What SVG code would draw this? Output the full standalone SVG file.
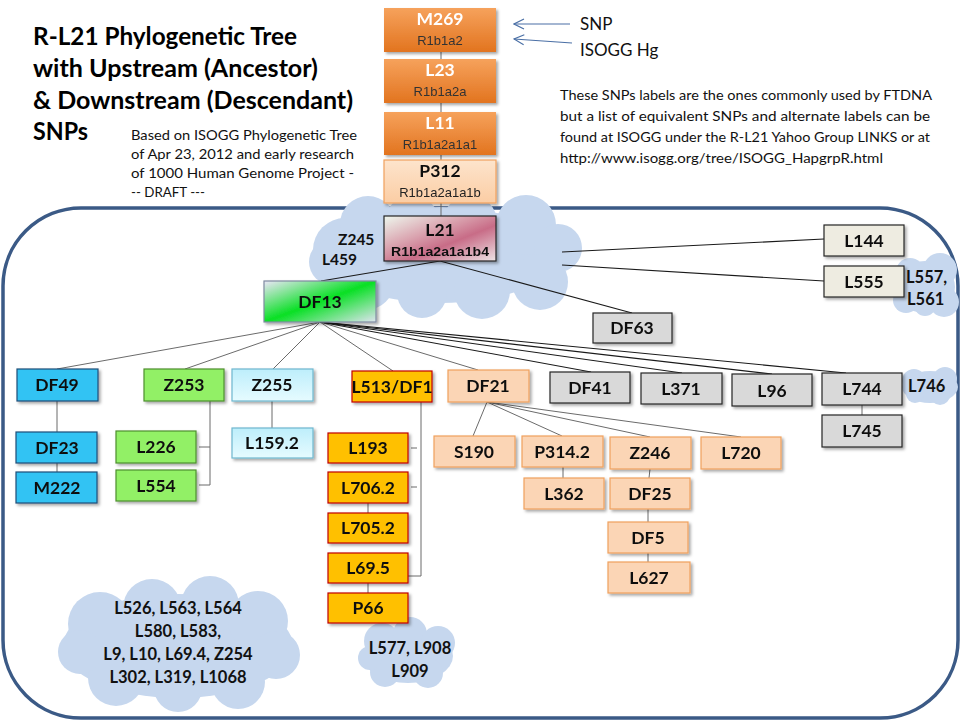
<svg xmlns="http://www.w3.org/2000/svg" width="960" height="720" viewBox="0 0 960 720">
<defs>
<style>
.lbl{font-family:Lato,"Liberation Sans",sans-serif;font-weight:bold;font-size:17.5px;text-anchor:middle;fill:#111}
.hg{font-family:"Liberation Sans",Arial,sans-serif;font-size:13px;text-anchor:middle;fill:#333}
.cloud{fill:#c6d7ee}
.ctext{font-family:Lato,"Liberation Sans",sans-serif;font-weight:bold;font-size:16.5px;fill:#111}
.gray{fill:#d9d9d9;stroke:#262626;stroke-width:1.2}
.beige{fill:#eeece1;stroke:#262626;stroke-width:1.2}
.peach{fill:#fbd5b5;stroke:#f0a15e;stroke-width:1.2}
.gold{fill:#ffc000;stroke:#c00000;stroke-width:1.2}
.blue{fill:#33c3f3;stroke:#1f4e79;stroke-width:1.2}
.green{fill:#92f066;stroke:#4e8f2e;stroke-width:1.2}
.cyan{fill:url(#gc);stroke:#6fb7cf;stroke-width:1.2}
.orange{fill:url(#go)}
.thin{stroke:#6b6b6b;stroke-width:1;fill:none}
.dark{stroke:#1a1a1a;stroke-width:1.1;fill:none}
.ptxt{font-family:Lato,"Liberation Sans",sans-serif;font-size:14px;fill:#111}
</style>
<linearGradient id="go" x1="0" y1="0" x2="0" y2="1"><stop offset="0" stop-color="#f6a25c"/><stop offset="1" stop-color="#e2741f"/></linearGradient>
<linearGradient id="gp" x1="0" y1="0" x2="0" y2="1"><stop offset="0" stop-color="#fde4cc"/><stop offset="1" stop-color="#fbcda4"/></linearGradient>
<linearGradient id="gc" x1="0" y1="0" x2="0" y2="1"><stop offset="0" stop-color="#bdeefb"/><stop offset="1" stop-color="#e6fbff"/></linearGradient>
<linearGradient id="gl21" x1="0" y1="0" x2="1" y2="1"><stop offset="0" stop-color="#eef8ee"/><stop offset="0.35" stop-color="#dba7b2"/><stop offset="0.6" stop-color="#c86c87"/><stop offset="1" stop-color="#eee4e6"/></linearGradient>
<linearGradient id="gdf13" x1="0" y1="0" x2="1" y2="1"><stop offset="0" stop-color="#ece6f8"/><stop offset="0.5" stop-color="#08e024"/><stop offset="1" stop-color="#dfe4f0"/></linearGradient>
<filter id="sh" x="-10%" y="-10%" width="130%" height="140%"><feDropShadow dx="2" dy="2" stdDeviation="1.5" flood-color="#000" flood-opacity="0.35"/></filter>
<marker id="ar" viewBox="0 0 12 12" refX="11" refY="6" markerWidth="12" markerHeight="12" markerUnits="userSpaceOnUse" orient="auto"><path d="M1,1 L11,6 L1,11" fill="none" stroke="#4a6fa5" stroke-width="1.2"/></marker>
</defs>
<rect width="960" height="720" fill="#fff"/>

<!-- title and notes -->
<g id="title" font-family="Lato,'Liberation Sans',sans-serif" font-weight="bold" font-size="24" fill="#000">
<text x="33" y="45" textLength="264" lengthAdjust="spacingAndGlyphs">R-L21 Phylogenetic Tree</text>
<text x="33" y="77" textLength="285" lengthAdjust="spacingAndGlyphs">with Upstream (Ancestor)</text>
<text x="33" y="109" textLength="320" lengthAdjust="spacingAndGlyphs">&amp; Downstream (Descendant)</text>
<text x="33" y="140" textLength="55" lengthAdjust="spacingAndGlyphs">SNPs</text>
</g>
<g id="subtitle" font-family="Lato,'Liberation Sans',sans-serif" font-size="13.5" fill="#111">
<text x="131" y="140" textLength="226" lengthAdjust="spacingAndGlyphs">Based on ISOGG Phylogenetic Tree</text>
<text x="131" y="159" textLength="223" lengthAdjust="spacingAndGlyphs">of Apr 23, 2012 and early research</text>
<text x="131" y="178" textLength="223" lengthAdjust="spacingAndGlyphs">of 1000 Human Genome  Project   -</text>
<text x="131" y="197" textLength="74" lengthAdjust="spacingAndGlyphs">-- DRAFT ---</text>
</g>
<g id="note">
<text class="ptxt" x="560" y="100" textLength="372" lengthAdjust="spacingAndGlyphs">These SNPs labels are the ones commonly  used by FTDNA</text>
<text class="ptxt" x="560" y="121" textLength="370" lengthAdjust="spacingAndGlyphs">but a list of equivalent SNPs and alternate labels can be</text>
<text class="ptxt" x="560" y="142" textLength="370" lengthAdjust="spacingAndGlyphs">found at ISOGG under the R-L21 Yahoo Group  LINKS or at</text>
<text class="ptxt" x="560" y="163" textLength="323" lengthAdjust="spacingAndGlyphs">http://www.isogg.org/tree/ISOGG_HapgrpR.html</text>
</g>
<g id="legend" font-family="Lato,'Liberation Sans',sans-serif" font-size="17" fill="#111">
<line x1="570" y1="24" x2="514" y2="24" stroke="#4a6fa5" stroke-width="1.2" marker-end="url(#ar)"/>
<line x1="572" y1="43" x2="514" y2="39" stroke="#4a6fa5" stroke-width="1.2" marker-end="url(#ar)"/>
<text x="580" y="30">SNP</text>
<text x="580" y="56">ISOGG Hg</text>
</g>

<!-- frame -->
<rect id="frame" x="3" y="208" width="955" height="510" rx="78" ry="78" fill="#fff" stroke="#3b5a86" stroke-width="3.5"/>

<!-- clouds -->
<g id="cloud-l21" class="cloud">
<ellipse cx="440" cy="255" rx="118" ry="48"/>
<circle cx="345" cy="250" r="32"/><circle cx="368" cy="224" r="28"/><circle cx="412" cy="222" r="27"/>
<circle cx="470" cy="222" r="27"/><circle cx="526" cy="225" r="30"/><circle cx="558" cy="248" r="24"/>
<circle cx="540" cy="282" r="28"/><circle cx="482" cy="291" r="28"/><circle cx="422" cy="293" r="25"/>
<circle cx="366" cy="282" r="28"/><circle cx="332" cy="262" r="23"/>
</g>
<g id="cloud-l557" class="cloud">
<ellipse cx="925" cy="287" rx="30" ry="26"/><circle cx="910" cy="272" r="14"/><circle cx="940" cy="270" r="17"/>
<circle cx="906" cy="300" r="13"/><circle cx="944" cy="302" r="15"/><circle cx="925" cy="305" r="11"/>
</g>
<g id="cloud-l746" class="cloud">
<ellipse cx="930" cy="387" rx="28" ry="16"/><circle cx="914" cy="381" r="12"/><circle cx="945" cy="379" r="12"/>
<circle cx="940" cy="395" r="10"/><circle cx="915" cy="394" r="9"/>
</g>
<g id="cloud-l577" class="cloud">
<ellipse cx="408" cy="656" rx="45" ry="27"/><circle cx="382" cy="641" r="18"/><circle cx="410" cy="634" r="17"/>
<circle cx="438" cy="643" r="17"/><circle cx="385" cy="672" r="15"/><circle cx="428" cy="673" r="15"/><circle cx="370" cy="658" r="12"/>
</g>
<g id="cloud-bl" class="cloud">
<ellipse cx="178" cy="646" rx="115" ry="52"/><circle cx="100" cy="624" r="32"/><circle cx="152" cy="608" r="29"/>
<circle cx="210" cy="605" r="29"/><circle cx="258" cy="621" r="30"/><circle cx="276" cy="655" r="24"/>
<circle cx="238" cy="682" r="27"/><circle cx="178" cy="688" r="24"/><circle cx="116" cy="678" r="28"/><circle cx="80" cy="652" r="22"/>
</g>

<!-- connectors -->
<g id="connectors">
<line class="thin" x1="441" y1="52" x2="441" y2="216"/>
<line class="dark" x1="440" y1="261" x2="321" y2="281"/>
<line class="dark" x1="440" y1="261" x2="632" y2="313"/>
<line class="dark" x1="562" y1="252" x2="824" y2="239"/>
<line class="dark" x1="562" y1="265" x2="824" y2="281"/>
<line class="thin" x1="320" y1="322" x2="57" y2="369"/>
<line class="thin" x1="320" y1="322" x2="185" y2="369"/>
<line class="thin" x1="320" y1="322" x2="273" y2="369"/>
<line class="thin" x1="320" y1="322" x2="393" y2="371"/>
<line class="thin" x1="320" y1="322" x2="478" y2="370"/>
<line class="dark" x1="320" y1="322" x2="591" y2="372"/>
<line class="dark" x1="320" y1="322" x2="682" y2="373"/>
<line class="dark" x1="320" y1="322" x2="772" y2="374"/>
<line class="dark" x1="320" y1="322" x2="846" y2="373"/>
<line class="thin" x1="57" y1="401" x2="57" y2="432"/>
<line class="thin" x1="57" y1="463" x2="57" y2="472"/>
<polyline class="thin" points="210,401 210,485 199,485"/>
<line class="thin" x1="199" y1="447" x2="210" y2="447"/>
<line class="thin" x1="272" y1="401" x2="272" y2="428"/>
<polyline class="thin" points="421,402 421,576 408,576"/>
<line class="thin" x1="411" y1="448" x2="417" y2="448"/>
<line class="thin" x1="411" y1="487" x2="417" y2="487"/>
<line class="thin" x1="368" y1="503" x2="368" y2="513"/>
<line class="thin" x1="368" y1="583" x2="368" y2="593"/>
<line class="thin" x1="487" y1="402" x2="473" y2="436"/>
<line class="thin" x1="487" y1="402" x2="562" y2="436"/>
<line class="thin" x1="487" y1="402" x2="650" y2="437"/>
<line class="thin" x1="487" y1="402" x2="741" y2="437"/>
<line class="thin" x1="563" y1="467" x2="563" y2="478"/>
<line class="thin" x1="650" y1="469" x2="649" y2="478"/>
<line class="thin" x1="648" y1="509" x2="648" y2="522"/>
<line class="thin" x1="648" y1="553" x2="648" y2="562"/>
<line class="thin" x1="862" y1="405" x2="862" y2="415"/>
</g>

<!-- upstream nodes -->
<g id="n-m269" filter="url(#sh)"><rect class="orange" x="384" y="8" width="112" height="44"/><text class="lbl" x="440" y="25" style="fill:#fff">M269</text><text class="hg" x="440" y="45">R1b1a2</text></g>
<g id="n-l23" filter="url(#sh)"><rect class="orange" x="384" y="59" width="112" height="44"/><text class="lbl" x="440" y="76" style="fill:#fff">L23</text><text class="hg" x="440" y="96">R1b1a2a</text></g>
<g id="n-l11" filter="url(#sh)"><rect class="orange" x="384" y="112" width="112" height="43"/><text class="lbl" x="440" y="129" style="fill:#fff">L11</text><text class="hg" x="440" y="149">R1b1a2a1a1</text></g>
<g id="n-p312" filter="url(#sh)"><rect x="384" y="160" width="112" height="43" fill="url(#gp)" stroke="#f0a15e" stroke-width="1.2"/><text class="lbl" x="440" y="177">P312</text><text class="hg" x="440" y="197" style="fill:#222">R1b1a2a1a1b</text></g>
<g id="n-l21" filter="url(#sh)"><rect x="384" y="216" width="112" height="45" fill="url(#gl21)" stroke="#262626" stroke-width="1.2"/><text class="lbl" x="440" y="236">L21</text><text class="hg" x="440" y="256" font-weight="bold" style="fill:#111" textLength="98" lengthAdjust="spacingAndGlyphs">R1b1a2a1a1b4</text></g>
<g id="l21-extra"><text class="ctext" x="338" y="245" style="font-size:15.5px">Z245</text><text class="ctext" x="322" y="265" style="font-size:15.5px">L459</text></g>

<g id="n-df13" filter="url(#sh)"><rect x="264" y="281" width="112" height="41" fill="url(#gdf13)" stroke="#7f8aa0" stroke-width="1.2"/><text class="lbl" x="320" y="308">DF13</text></g>
<g id="n-df63" filter="url(#sh)"><rect class="gray" x="593" y="313" width="79" height="30"/><text class="lbl" x="632" y="334">DF63</text></g>
<g id="n-l144" filter="url(#sh)"><rect class="beige" x="824" y="225" width="80" height="31"/><text class="lbl" x="864" y="247">L144</text></g>
<g id="n-l555" filter="url(#sh)"><rect class="beige" x="824" y="266" width="80" height="31"/><text class="lbl" x="864" y="288">L555</text></g>
<g id="l555-extra"><text class="ctext" x="906" y="283">L557,</text><text class="ctext" x="907" y="305">L561</text></g>

<!-- DF13 children -->
<g id="n-df49" filter="url(#sh)"><rect class="blue" x="17" y="369" width="81" height="32"/><text class="lbl" x="57" y="391">DF49</text></g>
<g id="n-df23" filter="url(#sh)"><rect class="blue" x="16" y="432" width="81" height="31"/><text class="lbl" x="57" y="454">DF23</text></g>
<g id="n-m222" filter="url(#sh)"><rect class="blue" x="16" y="472" width="81" height="31"/><text class="lbl" x="57" y="494">M222</text></g>
<g id="n-z253" filter="url(#sh)"><rect class="green" x="144" y="369" width="80" height="32"/><text class="lbl" x="184" y="391">Z253</text></g>
<g id="n-l226" filter="url(#sh)"><rect class="green" x="116" y="431" width="80" height="32"/><text class="lbl" x="156" y="453">L226</text></g>
<g id="n-l554" filter="url(#sh)"><rect class="green" x="116" y="470" width="80" height="31"/><text class="lbl" x="156" y="492">L554</text></g>
<g id="n-z255" filter="url(#sh)"><rect class="cyan" x="232" y="369" width="81" height="32"/><text class="lbl" x="272" y="391">Z255</text></g>
<g id="n-l1592" filter="url(#sh)"><rect class="cyan" x="232" y="428" width="81" height="30"/><text class="lbl" x="272" y="449">L159.2</text></g>
<g id="n-l513" filter="url(#sh)"><rect class="gold" x="352" y="371" width="80" height="31"/><text class="lbl" x="392" y="393">L513/DF1</text></g>
<g id="n-l193" filter="url(#sh)"><rect class="gold" x="328" y="433" width="80" height="30"/><text class="lbl" x="368" y="454">L193</text></g>
<g id="n-l7062" filter="url(#sh)"><rect class="gold" x="328" y="472" width="80" height="31"/><text class="lbl" x="368" y="494">L706.2</text></g>
<g id="n-l7052" filter="url(#sh)"><rect class="gold" x="328" y="513" width="80" height="30"/><text class="lbl" x="368" y="534">L705.2</text></g>
<g id="n-l695" filter="url(#sh)"><rect class="gold" x="328" y="553" width="80" height="30"/><text class="lbl" x="368" y="574">L69.5</text></g>
<g id="n-p66" filter="url(#sh)"><rect class="gold" x="328" y="593" width="80" height="30"/><text class="lbl" x="368" y="614">P66</text></g>
<g id="p66-extra"><text class="ctext" x="410" y="654" text-anchor="middle">L577, L908</text><text class="ctext" x="410" y="677" text-anchor="middle">L909</text></g>
<g id="n-df21" filter="url(#sh)"><rect class="peach" x="448" y="370" width="81" height="32"/><text class="lbl" x="488" y="392">DF21</text></g>
<g id="n-s190" filter="url(#sh)"><rect class="peach" x="434" y="436" width="81" height="31"/><text class="lbl" x="474" y="458">S190</text></g>
<g id="n-p3142" filter="url(#sh)"><rect class="peach" x="522" y="436" width="81" height="31"/><text class="lbl" x="562" y="458">P314.2</text></g>
<g id="n-l362" filter="url(#sh)"><rect class="peach" x="524" y="478" width="80" height="31"/><text class="lbl" x="564" y="500">L362</text></g>
<g id="n-z246" filter="url(#sh)"><rect class="peach" x="610" y="437" width="81" height="32"/><text class="lbl" x="650" y="459">Z246</text></g>
<g id="n-df25" filter="url(#sh)"><rect class="peach" x="610" y="478" width="80" height="31"/><text class="lbl" x="650" y="500">DF25</text></g>
<g id="n-df5" filter="url(#sh)"><rect class="peach" x="608" y="522" width="80" height="31"/><text class="lbl" x="648" y="544">DF5</text></g>
<g id="n-l627" filter="url(#sh)"><rect class="peach" x="608" y="562" width="82" height="31"/><text class="lbl" x="649" y="584">L627</text></g>
<g id="n-l720" filter="url(#sh)"><rect class="peach" x="701" y="437" width="80" height="32"/><text class="lbl" x="741" y="459">L720</text></g>
<g id="n-df41" filter="url(#sh)"><rect class="gray" x="550" y="372" width="80" height="31"/><text class="lbl" x="590" y="394">DF41</text></g>
<g id="n-l371" filter="url(#sh)"><rect class="gray" x="641" y="373" width="81" height="31"/><text class="lbl" x="681" y="395">L371</text></g>
<g id="n-l96" filter="url(#sh)"><rect class="gray" x="732" y="374" width="80" height="32"/><text class="lbl" x="772" y="397">L96</text></g>
<g id="n-l744" filter="url(#sh)"><rect class="gray" x="822" y="373" width="80" height="32"/><text class="lbl" x="862" y="395">L744</text></g>
<g id="n-l745" filter="url(#sh)"><rect class="gray" x="822" y="415" width="80" height="32"/><text class="lbl" x="862" y="437">L745</text></g>
<g id="l744-extra"><text class="ctext" x="908" y="392">L746</text></g>

<g id="bl-text" class="ctext" text-anchor="middle">
<text x="178" y="614">L526, L563, L564</text>
<text x="178" y="637">L580, L583,</text>
<text x="178" y="660">L9, L10, L69.4, Z254</text>
<text x="178" y="683">L302, L319, L1068</text>
</g>
</svg>
